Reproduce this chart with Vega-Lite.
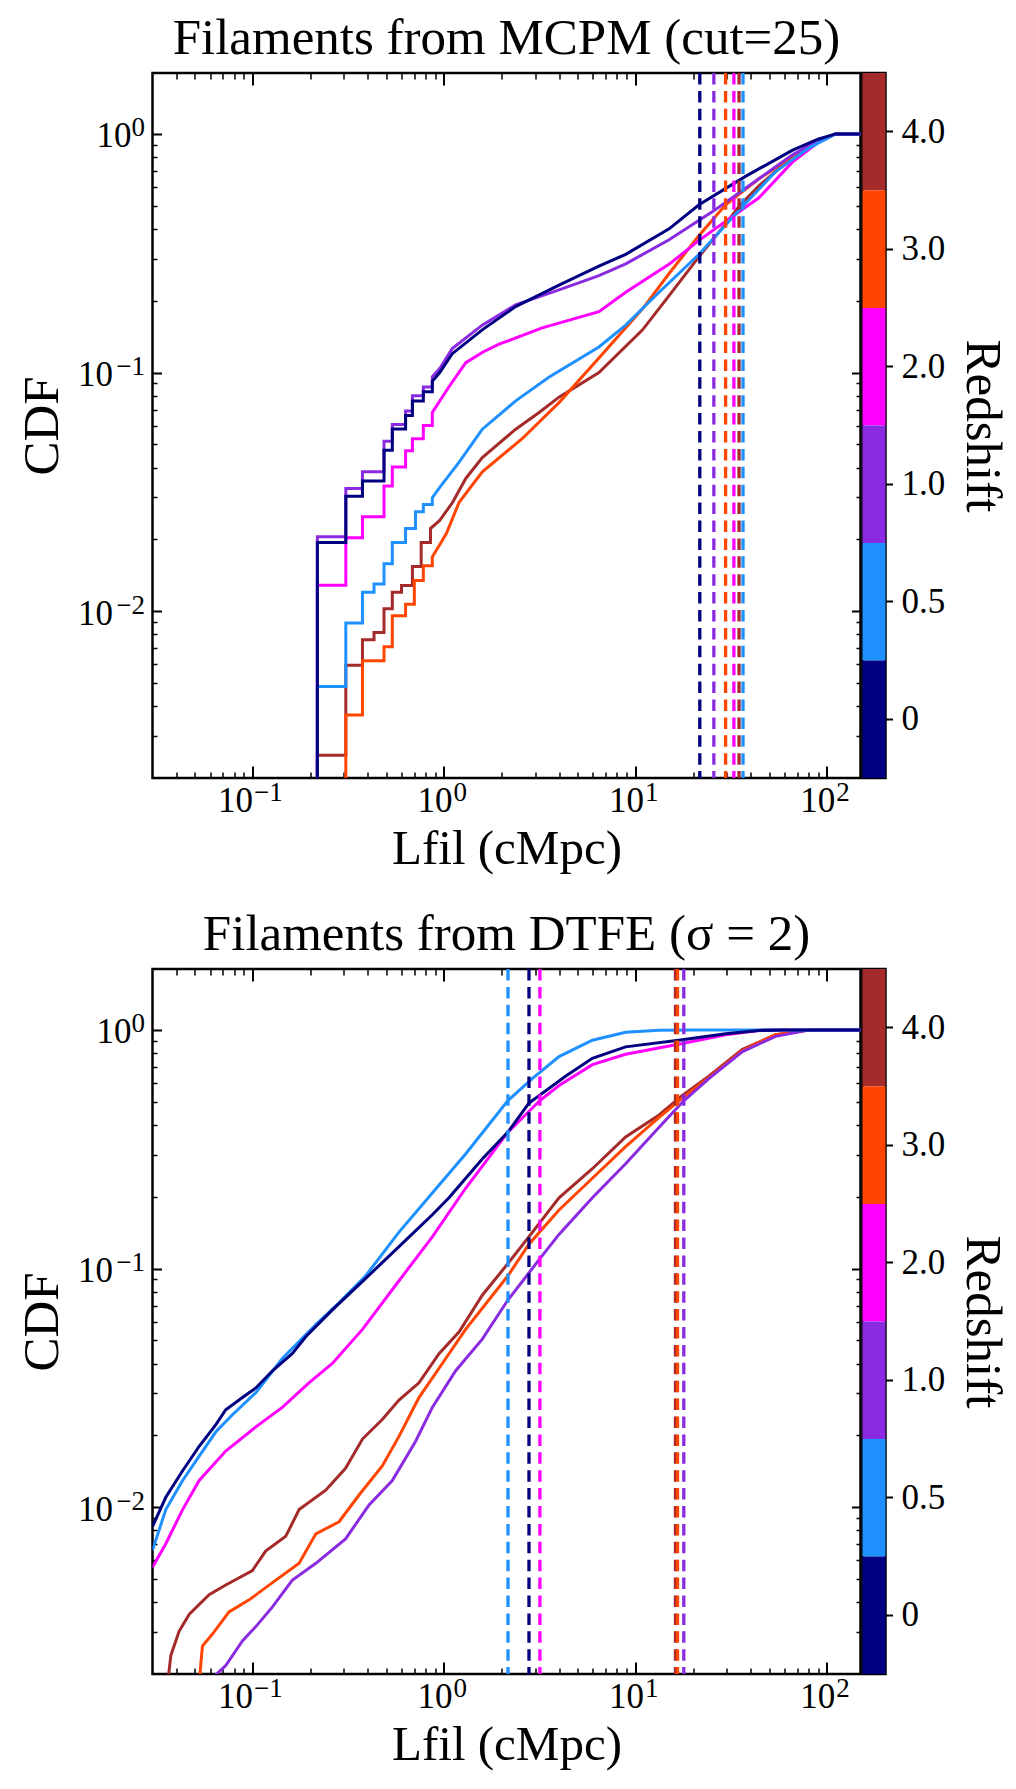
{
"$schema": "https://vega.github.io/schema/vega-lite/v6.json",
"padding": {"left": 14.5, "top": 12, "right": 5, "bottom": 5},
"background": "white",
"columns": 2,
"spacing": {"row": 191, "column": 2},
"bounds": "flush",
"concat": [
{
 "width": 708, "height": 705,
 "title": {"text": "Filaments from MCPM (cut=25)", "offset": 6},
 "layer": [
  {"data": {"name": "curves"}, "transform": [{"filter": "datum.panel == 'MCPM'"}],
   "mark": {"type": "line", "strokeWidth": 3, "clip": true},
   "encoding": {
    "x": {"field": "L", "type": "quantitative", "scale": {"type": "log", "domain": [0.03, 150], "nice": false},
      "axis": {"orient": "bottom", "values": [1, 10, 100], "labelExpr": "'10'", "ticks": false, "tickSize": 0, "labelPadding": 33.7, "labelBaseline": "alphabetic", "labelAlign": "right", "labelOffset": 8, "labelOverlap": false, "labelFlush": false, "title": "Lfil (cMpc)", "titleFontSize": 49, "titlePadding": 6}},
    "y": {"field": "cdf", "type": "quantitative", "scale": {"type": "log", "domain": [0.002, 1.8], "nice": false},
      "axis": {"orient": "left", "values": [0.01, 0.1], "labelExpr": "'10'", "ticks": false, "tickSize": 0, "labelPadding": 40, "labelBaseline": "alphabetic", "labelAlign": "right", "labelOffset": 13, "labelOverlap": false, "labelFlush": false, "title": "CDF", "titlePadding": 9}},
    "color": {"field": "z", "type": "nominal", "scale": {"domain": ["0", "0.5", "1.0", "2.0", "3.0", "4.0"], "range": ["#000080", "#1E90FF", "#8A2BE2", "#FF00FF", "#FF4500", "#A52A2A"]}, "legend": null},
    "order": {"value": null}
   }},
  {"data": {"name": "medians"}, "transform": [{"filter": "datum.panel == 'MCPM'"}],
   "mark": {"type": "rule", "strokeWidth": 3.3, "strokeDash": [11.5, 6.4]},
   "encoding": {
    "x": {"field": "L", "type": "quantitative", "scale": {"type": "log", "domain": [0.03, 150], "nice": false},
      "axis": {"orient": "top", "values": [0.1, 1, 10, 100], "tickSize": -12, "tickWidth": 2, "labels": false, "title": null}},
    "color": {"field": "z", "type": "nominal", "scale": {"domain": ["0", "0.5", "1.0", "2.0", "3.0", "4.0"], "range": ["#000080", "#1E90FF", "#8A2BE2", "#FF00FF", "#FF4500", "#A52A2A"]}, "legend": null}
   }},
  {"data": {"name": "curves"}, "transform": [{"filter": "datum.panel == 'MCPM' && datum.cdf >= 0.002"}],
   "mark": {"type": "point", "opacity": 0, "clip": true},
   "encoding": {
    "x": {"field": "L", "type": "quantitative", "scale": {"type": "log", "domain": [0.03, 150], "nice": false},
      "axis": {"orient": "bottom", "values": [0.1], "labelExpr": "'10'", "ticks": false, "tickSize": 0, "labelPadding": 33.7, "labelBaseline": "alphabetic", "labelAlign": "right", "labelOffset": 0, "labelOverlap": false, "labelFlush": false, "title": null}},
    "y": {"field": "cdf", "type": "quantitative", "scale": {"type": "log", "domain": [0.002, 1.8], "nice": false},
      "axis": {"orient": "left", "values": [1], "labelExpr": "'10'", "ticks": false, "tickSize": 0, "labelPadding": 21.5, "labelBaseline": "alphabetic", "labelAlign": "right", "labelOffset": 13, "labelOverlap": false, "labelFlush": false, "title": null}}
   }},
  {"data": {"name": "curves"}, "transform": [{"filter": "datum.panel == 'MCPM' && datum.cdf >= 0.002"}],
   "mark": {"type": "point", "opacity": 0, "clip": true},
   "encoding": {
    "x": {"field": "L", "type": "quantitative", "scale": {"type": "log", "domain": [0.03, 150], "nice": false},
      "axis": {"orient": "bottom", "values": [0.1], "labelExpr": "'−1'", "ticks": false, "tickSize": 0, "labelPadding": 22, "labelBaseline": "alphabetic", "labelAlign": "left", "labelOffset": 1, "labelFontSize": 27, "labelOverlap": false, "labelFlush": false, "title": null}},
    "y": {"field": "cdf", "type": "quantitative", "scale": {"type": "log", "domain": [0.002, 1.8], "nice": false},
      "axis": {"orient": "left", "values": [0.01, 0.1], "labelExpr": "datum.value < 0.05 ? '−2' : '−1'", "ticks": false, "tickSize": 0, "labelPadding": 8, "labelBaseline": "alphabetic", "labelAlign": "right", "labelOffset": 2, "labelFontSize": 27, "labelOverlap": false, "labelFlush": false, "title": null}}
   }},
  {"data": {"name": "curves"}, "transform": [{"filter": "datum.panel == 'MCPM' && datum.cdf >= 0.002"}],
   "mark": {"type": "point", "opacity": 0, "clip": true},
   "encoding": {
    "x": {"field": "L", "type": "quantitative", "scale": {"type": "log", "domain": [0.03, 150], "nice": false},
      "axis": {"orient": "bottom", "values": [1, 10, 100], "labelExpr": "datum.value < 5 ? '0' : datum.value < 50 ? '1' : '2'", "ticks": false, "tickSize": 0, "labelPadding": 22, "labelBaseline": "alphabetic", "labelAlign": "left", "labelOffset": 9, "labelFontSize": 27, "labelOverlap": false, "labelFlush": false, "title": null}},
    "y": {"field": "cdf", "type": "quantitative", "scale": {"type": "log", "domain": [0.002, 1.8], "nice": false},
      "axis": {"orient": "left", "values": [1], "labelExpr": "'0'", "ticks": false, "tickSize": 0, "labelPadding": 8, "labelBaseline": "alphabetic", "labelAlign": "right", "labelOffset": 2, "labelFontSize": 27, "labelOverlap": false, "labelFlush": false, "title": null}}
   }},
  {"data": {"name": "curves"}, "transform": [{"filter": "datum.panel == 'MCPM' && datum.cdf >= 0.002"}],
   "mark": {"type": "point", "opacity": 0, "clip": true},
   "encoding": {
    "x": {"field": "L", "type": "quantitative", "scale": {"type": "log", "domain": [0.03, 150], "nice": false},
      "axis": {"orient": "bottom", "values": [0.1, 1, 10, 100], "tickSize": -12, "tickWidth": 2, "labels": false, "title": null}},
    "y": {"field": "cdf", "type": "quantitative", "scale": {"type": "log", "domain": [0.002, 1.8], "nice": false},
      "axis": {"orient": "left", "values": [0.01, 0.1, 1], "tickSize": -9, "tickWidth": 2, "labels": false, "title": null}}
   }},
  {"data": {"name": "curves"}, "transform": [{"filter": "datum.panel == 'MCPM' && datum.cdf >= 0.002"}],
   "mark": {"type": "point", "opacity": 0, "clip": true},
   "encoding": {
    "x": {"field": "L", "type": "quantitative", "scale": {"type": "log", "domain": [0.03, 150], "nice": false},
      "axis": {"orient": "bottom", "values": [0.04,0.05,0.06,0.07,0.08,0.09,0.2,0.3,0.4,0.5,0.6,0.7,0.8,0.9,2,3,4,5,6,7,8,9,20,30,40,50,60,70,80,90], "tickSize": -6, "tickWidth": 1.5, "labels": false, "title": null}},
    "y": {"field": "cdf", "type": "quantitative", "scale": {"type": "log", "domain": [0.002, 1.8], "nice": false},
      "axis": {"orient": "left", "values": [0.003,0.004,0.005,0.006,0.007,0.008,0.009,0.02,0.03,0.04,0.05,0.06,0.07,0.08,0.09,0.2,0.3,0.4,0.5,0.6,0.7,0.8,0.9], "tickSize": -4.5, "tickWidth": 1.5, "labels": false, "title": null}}
   }},
  {"data": {"name": "curves"}, "transform": [{"filter": "datum.panel == 'MCPM' && datum.cdf >= 0.002"}],
   "mark": {"type": "point", "opacity": 0, "clip": true},
   "encoding": {
    "x": {"field": "L", "type": "quantitative", "scale": {"type": "log", "domain": [0.03, 150], "nice": false},
      "axis": {"orient": "top", "values": [0.04,0.05,0.06,0.07,0.08,0.09,0.2,0.3,0.4,0.5,0.6,0.7,0.8,0.9,2,3,4,5,6,7,8,9,20,30,40,50,60,70,80,90], "tickSize": -6, "tickWidth": 1.5, "labels": false, "title": null}},
    "y": {"field": "cdf", "type": "quantitative", "scale": {"type": "log", "domain": [0.002, 1.8], "nice": false},
      "axis": {"orient": "right", "values": [0.01, 0.1, 1], "tickSize": -9, "tickWidth": 2, "labels": false, "title": null}}
   }},
  {"data": {"name": "curves"}, "transform": [{"filter": "datum.panel == 'MCPM' && datum.cdf >= 0.002"}],
   "mark": {"type": "point", "opacity": 0, "clip": true},
   "encoding": {
    "x": {"field": "L", "type": "quantitative", "scale": {"type": "log", "domain": [0.03, 150], "nice": false}, "axis": null},
    "y": {"field": "cdf", "type": "quantitative", "scale": {"type": "log", "domain": [0.002, 1.8], "nice": false},
      "axis": {"orient": "right", "values": [0.003,0.004,0.005,0.006,0.007,0.008,0.009,0.02,0.03,0.04,0.05,0.06,0.07,0.08,0.09,0.2,0.3,0.4,0.5,0.6,0.7,0.8,0.9], "tickSize": -4.5, "tickWidth": 1.5, "labels": false, "title": null}}
   }}
 ],
 "resolve": {"axis": {"x": "independent", "y": "independent"}}
},
{
 "width": 23, "height": 705,
 "data": {"name": "cbar"},
 "mark": {"type": "rect"},
 "encoding": {
  "y": {"field": "z", "type": "ordinal", "sort": ["4.0", "3.0", "2.0", "1.0", "0.5", "0"], "scale": {"paddingInner": 0, "paddingOuter": 0},
    "axis": {"orient": "right", "title": "Redshift", "tickSize": 7, "tickWidth": 2, "labelPadding": 8.5, "titlePadding": 10.5, "labelAngle": 0, "labelBaseline": "middle"}},
  "color": {"field": "z", "type": "nominal", "scale": {"domain": ["0", "0.5", "1.0", "2.0", "3.0", "4.0"], "range": ["#000080", "#1E90FF", "#8A2BE2", "#FF00FF", "#FF4500", "#A52A2A"]}, "legend": null}
 }
},
{
 "width": 708, "height": 705,
 "title": {"text": "Filaments from DTFE (σ = 2)", "offset": 6},
 "layer": [
  {"data": {"name": "curves"}, "transform": [{"filter": "datum.panel == 'DTFE'"}],
   "mark": {"type": "line", "strokeWidth": 3, "clip": true},
   "encoding": {
    "x": {"field": "L", "type": "quantitative", "scale": {"type": "log", "domain": [0.03, 150], "nice": false},
      "axis": {"orient": "bottom", "values": [1, 10, 100], "labelExpr": "'10'", "ticks": false, "tickSize": 0, "labelPadding": 33.7, "labelBaseline": "alphabetic", "labelAlign": "right", "labelOffset": 8, "labelOverlap": false, "labelFlush": false, "title": "Lfil (cMpc)", "titleFontSize": 49, "titlePadding": 6}},
    "y": {"field": "cdf", "type": "quantitative", "scale": {"type": "log", "domain": [0.002, 1.8], "nice": false},
      "axis": {"orient": "left", "values": [0.01, 0.1], "labelExpr": "'10'", "ticks": false, "tickSize": 0, "labelPadding": 40, "labelBaseline": "alphabetic", "labelAlign": "right", "labelOffset": 13, "labelOverlap": false, "labelFlush": false, "title": "CDF", "titlePadding": 9}},
    "color": {"field": "z", "type": "nominal", "scale": {"domain": ["0", "0.5", "1.0", "2.0", "3.0", "4.0"], "range": ["#000080", "#1E90FF", "#8A2BE2", "#FF00FF", "#FF4500", "#A52A2A"]}, "legend": null},
    "order": {"value": null}
   }},
  {"data": {"name": "medians"}, "transform": [{"filter": "datum.panel == 'DTFE'"}],
   "mark": {"type": "rule", "strokeWidth": 3.3, "strokeDash": [11.5, 6.4]},
   "encoding": {
    "x": {"field": "L", "type": "quantitative", "scale": {"type": "log", "domain": [0.03, 150], "nice": false},
      "axis": {"orient": "top", "values": [0.1, 1, 10, 100], "tickSize": -12, "tickWidth": 2, "labels": false, "title": null}},
    "color": {"field": "z", "type": "nominal", "scale": {"domain": ["0", "0.5", "1.0", "2.0", "3.0", "4.0"], "range": ["#000080", "#1E90FF", "#8A2BE2", "#FF00FF", "#FF4500", "#A52A2A"]}, "legend": null}
   }},
  {"data": {"name": "curves"}, "transform": [{"filter": "datum.panel == 'DTFE' && datum.cdf >= 0.002"}],
   "mark": {"type": "point", "opacity": 0, "clip": true},
   "encoding": {
    "x": {"field": "L", "type": "quantitative", "scale": {"type": "log", "domain": [0.03, 150], "nice": false},
      "axis": {"orient": "bottom", "values": [0.1], "labelExpr": "'10'", "ticks": false, "tickSize": 0, "labelPadding": 33.7, "labelBaseline": "alphabetic", "labelAlign": "right", "labelOffset": 0, "labelOverlap": false, "labelFlush": false, "title": null}},
    "y": {"field": "cdf", "type": "quantitative", "scale": {"type": "log", "domain": [0.002, 1.8], "nice": false},
      "axis": {"orient": "left", "values": [1], "labelExpr": "'10'", "ticks": false, "tickSize": 0, "labelPadding": 21.5, "labelBaseline": "alphabetic", "labelAlign": "right", "labelOffset": 13, "labelOverlap": false, "labelFlush": false, "title": null}}
   }},
  {"data": {"name": "curves"}, "transform": [{"filter": "datum.panel == 'DTFE' && datum.cdf >= 0.002"}],
   "mark": {"type": "point", "opacity": 0, "clip": true},
   "encoding": {
    "x": {"field": "L", "type": "quantitative", "scale": {"type": "log", "domain": [0.03, 150], "nice": false},
      "axis": {"orient": "bottom", "values": [0.1], "labelExpr": "'−1'", "ticks": false, "tickSize": 0, "labelPadding": 22, "labelBaseline": "alphabetic", "labelAlign": "left", "labelOffset": 1, "labelFontSize": 27, "labelOverlap": false, "labelFlush": false, "title": null}},
    "y": {"field": "cdf", "type": "quantitative", "scale": {"type": "log", "domain": [0.002, 1.8], "nice": false},
      "axis": {"orient": "left", "values": [0.01, 0.1], "labelExpr": "datum.value < 0.05 ? '−2' : '−1'", "ticks": false, "tickSize": 0, "labelPadding": 8, "labelBaseline": "alphabetic", "labelAlign": "right", "labelOffset": 2, "labelFontSize": 27, "labelOverlap": false, "labelFlush": false, "title": null}}
   }},
  {"data": {"name": "curves"}, "transform": [{"filter": "datum.panel == 'DTFE' && datum.cdf >= 0.002"}],
   "mark": {"type": "point", "opacity": 0, "clip": true},
   "encoding": {
    "x": {"field": "L", "type": "quantitative", "scale": {"type": "log", "domain": [0.03, 150], "nice": false},
      "axis": {"orient": "bottom", "values": [1, 10, 100], "labelExpr": "datum.value < 5 ? '0' : datum.value < 50 ? '1' : '2'", "ticks": false, "tickSize": 0, "labelPadding": 22, "labelBaseline": "alphabetic", "labelAlign": "left", "labelOffset": 9, "labelFontSize": 27, "labelOverlap": false, "labelFlush": false, "title": null}},
    "y": {"field": "cdf", "type": "quantitative", "scale": {"type": "log", "domain": [0.002, 1.8], "nice": false},
      "axis": {"orient": "left", "values": [1], "labelExpr": "'0'", "ticks": false, "tickSize": 0, "labelPadding": 8, "labelBaseline": "alphabetic", "labelAlign": "right", "labelOffset": 2, "labelFontSize": 27, "labelOverlap": false, "labelFlush": false, "title": null}}
   }},
  {"data": {"name": "curves"}, "transform": [{"filter": "datum.panel == 'DTFE' && datum.cdf >= 0.002"}],
   "mark": {"type": "point", "opacity": 0, "clip": true},
   "encoding": {
    "x": {"field": "L", "type": "quantitative", "scale": {"type": "log", "domain": [0.03, 150], "nice": false},
      "axis": {"orient": "bottom", "values": [0.1, 1, 10, 100], "tickSize": -12, "tickWidth": 2, "labels": false, "title": null}},
    "y": {"field": "cdf", "type": "quantitative", "scale": {"type": "log", "domain": [0.002, 1.8], "nice": false},
      "axis": {"orient": "left", "values": [0.01, 0.1, 1], "tickSize": -9, "tickWidth": 2, "labels": false, "title": null}}
   }},
  {"data": {"name": "curves"}, "transform": [{"filter": "datum.panel == 'DTFE' && datum.cdf >= 0.002"}],
   "mark": {"type": "point", "opacity": 0, "clip": true},
   "encoding": {
    "x": {"field": "L", "type": "quantitative", "scale": {"type": "log", "domain": [0.03, 150], "nice": false},
      "axis": {"orient": "bottom", "values": [0.04,0.05,0.06,0.07,0.08,0.09,0.2,0.3,0.4,0.5,0.6,0.7,0.8,0.9,2,3,4,5,6,7,8,9,20,30,40,50,60,70,80,90], "tickSize": -6, "tickWidth": 1.5, "labels": false, "title": null}},
    "y": {"field": "cdf", "type": "quantitative", "scale": {"type": "log", "domain": [0.002, 1.8], "nice": false},
      "axis": {"orient": "left", "values": [0.003,0.004,0.005,0.006,0.007,0.008,0.009,0.02,0.03,0.04,0.05,0.06,0.07,0.08,0.09,0.2,0.3,0.4,0.5,0.6,0.7,0.8,0.9], "tickSize": -4.5, "tickWidth": 1.5, "labels": false, "title": null}}
   }},
  {"data": {"name": "curves"}, "transform": [{"filter": "datum.panel == 'DTFE' && datum.cdf >= 0.002"}],
   "mark": {"type": "point", "opacity": 0, "clip": true},
   "encoding": {
    "x": {"field": "L", "type": "quantitative", "scale": {"type": "log", "domain": [0.03, 150], "nice": false},
      "axis": {"orient": "top", "values": [0.04,0.05,0.06,0.07,0.08,0.09,0.2,0.3,0.4,0.5,0.6,0.7,0.8,0.9,2,3,4,5,6,7,8,9,20,30,40,50,60,70,80,90], "tickSize": -6, "tickWidth": 1.5, "labels": false, "title": null}},
    "y": {"field": "cdf", "type": "quantitative", "scale": {"type": "log", "domain": [0.002, 1.8], "nice": false},
      "axis": {"orient": "right", "values": [0.01, 0.1, 1], "tickSize": -9, "tickWidth": 2, "labels": false, "title": null}}
   }},
  {"data": {"name": "curves"}, "transform": [{"filter": "datum.panel == 'DTFE' && datum.cdf >= 0.002"}],
   "mark": {"type": "point", "opacity": 0, "clip": true},
   "encoding": {
    "x": {"field": "L", "type": "quantitative", "scale": {"type": "log", "domain": [0.03, 150], "nice": false}, "axis": null},
    "y": {"field": "cdf", "type": "quantitative", "scale": {"type": "log", "domain": [0.002, 1.8], "nice": false},
      "axis": {"orient": "right", "values": [0.003,0.004,0.005,0.006,0.007,0.008,0.009,0.02,0.03,0.04,0.05,0.06,0.07,0.08,0.09,0.2,0.3,0.4,0.5,0.6,0.7,0.8,0.9], "tickSize": -4.5, "tickWidth": 1.5, "labels": false, "title": null}}
   }}
 ],
 "resolve": {"axis": {"x": "independent", "y": "independent"}}
},
{
 "width": 23, "height": 705,
 "data": {"name": "cbar"},
 "mark": {"type": "rect"},
 "encoding": {
  "y": {"field": "z", "type": "ordinal", "sort": ["4.0", "3.0", "2.0", "1.0", "0.5", "0"], "scale": {"paddingInner": 0, "paddingOuter": 0},
    "axis": {"orient": "right", "title": "Redshift", "tickSize": 7, "tickWidth": 2, "labelPadding": 8.5, "titlePadding": 10.5, "labelAngle": 0, "labelBaseline": "middle"}},
  "color": {"field": "z", "type": "nominal", "scale": {"domain": ["0", "0.5", "1.0", "2.0", "3.0", "4.0"], "range": ["#000080", "#1E90FF", "#8A2BE2", "#FF00FF", "#FF4500", "#A52A2A"]}, "legend": null}
 }
}
],
"datasets": {
 "cbar": [{"z": "4.0"}, {"z": "3.0"}, {"z": "2.0"}, {"z": "1.0"}, {"z": "0.5"}, {"z": "0"}],
 "medians": [
  {"panel": "MCPM", "z": "4.0", "L": 34.8}, {"panel": "MCPM", "z": "3.0", "L": 29.6}, {"panel": "MCPM", "z": "2.0", "L": 32.7},
  {"panel": "MCPM", "z": "1.0", "L": 25.7}, {"panel": "MCPM", "z": "0.5", "L": 36.5}, {"panel": "MCPM", "z": "0", "L": 21.7},
  {"panel": "DTFE", "z": "4.0", "L": 16.2}, {"panel": "DTFE", "z": "3.0", "L": 16.6}, {"panel": "DTFE", "z": "2.0", "L": 3.17},
  {"panel": "DTFE", "z": "1.0", "L": 17.9}, {"panel": "DTFE", "z": "0.5", "L": 2.16}, {"panel": "DTFE", "z": "0", "L": 2.78}
 ],
 "curves": [
  {"panel":"MCPM","z":"4.0","L":0.218,"cdf":0.0019},{"panel":"MCPM","z":"4.0","L":0.218,"cdf":0.00249},{"panel":"MCPM","z":"4.0","L":0.307,"cdf":0.00249},{"panel":"MCPM","z":"4.0","L":0.307,"cdf":0.00593},{"panel":"MCPM","z":"4.0","L":0.375,"cdf":0.00593},{"panel":"MCPM","z":"4.0","L":0.375,"cdf":0.0076},{"panel":"MCPM","z":"4.0","L":0.431,"cdf":0.0076},{"panel":"MCPM","z":"4.0","L":0.431,"cdf":0.00815},{"panel":"MCPM","z":"4.0","L":0.486,"cdf":0.00815},{"panel":"MCPM","z":"4.0","L":0.486,"cdf":0.01024},{"panel":"MCPM","z":"4.0","L":0.537,"cdf":0.01024},{"panel":"MCPM","z":"4.0","L":0.537,"cdf":0.012},{"panel":"MCPM","z":"4.0","L":0.6,"cdf":0.012},{"panel":"MCPM","z":"4.0","L":0.6,"cdf":0.0128},{"panel":"MCPM","z":"4.0","L":0.684,"cdf":0.0128},{"panel":"MCPM","z":"4.0","L":0.684,"cdf":0.0154},{"panel":"MCPM","z":"4.0","L":0.76,"cdf":0.0154},{"panel":"MCPM","z":"4.0","L":0.76,"cdf":0.0194},{"panel":"MCPM","z":"4.0","L":0.85,"cdf":0.0194},{"panel":"MCPM","z":"4.0","L":0.85,"cdf":0.0222},{"panel":"MCPM","z":"4.0","L":0.95,"cdf":0.024},{"panel":"MCPM","z":"4.0","L":1.11,"cdf":0.0286},{"panel":"MCPM","z":"4.0","L":1.3,"cdf":0.036},{"panel":"MCPM","z":"4.0","L":1.586,"cdf":0.044},{"panel":"MCPM","z":"4.0","L":2.37,"cdf":0.0579},{"panel":"MCPM","z":"4.0","L":3.14,"cdf":0.068},{"panel":"MCPM","z":"4.0","L":3.99,"cdf":0.0789},{"panel":"MCPM","z":"4.0","L":6.45,"cdf":0.1},{"panel":"MCPM","z":"4.0","L":10.9,"cdf":0.151},{"panel":"MCPM","z":"4.0","L":15,"cdf":0.21},{"panel":"MCPM","z":"4.0","L":21.5,"cdf":0.306},{"panel":"MCPM","z":"4.0","L":29.6,"cdf":0.42},{"panel":"MCPM","z":"4.0","L":35,"cdf":0.5},{"panel":"MCPM","z":"4.0","L":44.2,"cdf":0.606},{"panel":"MCPM","z":"4.0","L":65.9,"cdf":0.796},{"panel":"MCPM","z":"4.0","L":90,"cdf":0.93},{"panel":"MCPM","z":"4.0","L":111,"cdf":1},{"panel":"MCPM","z":"4.0","L":150,"cdf":1},
  {"panel":"MCPM","z":"3.0","L":0.307,"cdf":0.0019},{"panel":"MCPM","z":"3.0","L":0.307,"cdf":0.00367},{"panel":"MCPM","z":"3.0","L":0.375,"cdf":0.00367},{"panel":"MCPM","z":"3.0","L":0.375,"cdf":0.0062},{"panel":"MCPM","z":"3.0","L":0.486,"cdf":0.0062},{"panel":"MCPM","z":"3.0","L":0.486,"cdf":0.0071},{"panel":"MCPM","z":"3.0","L":0.537,"cdf":0.0071},{"panel":"MCPM","z":"3.0","L":0.537,"cdf":0.00957},{"panel":"MCPM","z":"3.0","L":0.63,"cdf":0.00957},{"panel":"MCPM","z":"3.0","L":0.63,"cdf":0.0107},{"panel":"MCPM","z":"3.0","L":0.7,"cdf":0.0107},{"panel":"MCPM","z":"3.0","L":0.7,"cdf":0.01346},{"panel":"MCPM","z":"3.0","L":0.78,"cdf":0.01346},{"panel":"MCPM","z":"3.0","L":0.78,"cdf":0.0155},{"panel":"MCPM","z":"3.0","L":0.869,"cdf":0.0155},{"panel":"MCPM","z":"3.0","L":0.869,"cdf":0.0169},{"panel":"MCPM","z":"3.0","L":0.95,"cdf":0.019},{"panel":"MCPM","z":"3.0","L":1.03,"cdf":0.0212},{"panel":"MCPM","z":"3.0","L":1.2,"cdf":0.0286},{"panel":"MCPM","z":"3.0","L":1.586,"cdf":0.0384},{"panel":"MCPM","z":"3.0","L":2.56,"cdf":0.0528},{"panel":"MCPM","z":"3.0","L":4,"cdf":0.075},{"panel":"MCPM","z":"3.0","L":6.45,"cdf":0.115},{"panel":"MCPM","z":"3.0","L":10.9,"cdf":0.185},{"panel":"MCPM","z":"3.0","L":15,"cdf":0.26},{"panel":"MCPM","z":"3.0","L":21.5,"cdf":0.375},{"panel":"MCPM","z":"3.0","L":29.6,"cdf":0.505},{"panel":"MCPM","z":"3.0","L":44.2,"cdf":0.649},{"panel":"MCPM","z":"3.0","L":65.9,"cdf":0.796},{"panel":"MCPM","z":"3.0","L":90,"cdf":0.93},{"panel":"MCPM","z":"3.0","L":111,"cdf":1},{"panel":"MCPM","z":"3.0","L":150,"cdf":1},
  {"panel":"MCPM","z":"2.0","L":0.218,"cdf":0.0019},{"panel":"MCPM","z":"2.0","L":0.218,"cdf":0.01286},{"panel":"MCPM","z":"2.0","L":0.307,"cdf":0.01286},{"panel":"MCPM","z":"2.0","L":0.307,"cdf":0.0203},{"panel":"MCPM","z":"2.0","L":0.375,"cdf":0.0203},{"panel":"MCPM","z":"2.0","L":0.375,"cdf":0.0249},{"panel":"MCPM","z":"2.0","L":0.486,"cdf":0.0249},{"panel":"MCPM","z":"2.0","L":0.486,"cdf":0.0335},{"panel":"MCPM","z":"2.0","L":0.537,"cdf":0.0335},{"panel":"MCPM","z":"2.0","L":0.537,"cdf":0.0402},{"panel":"MCPM","z":"2.0","L":0.63,"cdf":0.0402},{"panel":"MCPM","z":"2.0","L":0.63,"cdf":0.047},{"panel":"MCPM","z":"2.0","L":0.684,"cdf":0.047},{"panel":"MCPM","z":"2.0","L":0.684,"cdf":0.0528},{"panel":"MCPM","z":"2.0","L":0.78,"cdf":0.0528},{"panel":"MCPM","z":"2.0","L":0.78,"cdf":0.06},{"panel":"MCPM","z":"2.0","L":0.869,"cdf":0.06},{"panel":"MCPM","z":"2.0","L":0.869,"cdf":0.068},{"panel":"MCPM","z":"2.0","L":0.95,"cdf":0.076},{"panel":"MCPM","z":"2.0","L":1.06,"cdf":0.087},{"panel":"MCPM","z":"2.0","L":1.3,"cdf":0.11},{"panel":"MCPM","z":"2.0","L":1.6,"cdf":0.122},{"panel":"MCPM","z":"2.0","L":1.94,"cdf":0.1315},{"panel":"MCPM","z":"2.0","L":3.26,"cdf":0.154},{"panel":"MCPM","z":"2.0","L":6.45,"cdf":0.18},{"panel":"MCPM","z":"2.0","L":8.9,"cdf":0.217},{"panel":"MCPM","z":"2.0","L":15.1,"cdf":0.2855},{"panel":"MCPM","z":"2.0","L":21.5,"cdf":0.358},{"panel":"MCPM","z":"2.0","L":32,"cdf":0.45},{"panel":"MCPM","z":"2.0","L":44.2,"cdf":0.54},{"panel":"MCPM","z":"2.0","L":65.9,"cdf":0.76},{"panel":"MCPM","z":"2.0","L":90,"cdf":0.92},{"panel":"MCPM","z":"2.0","L":111,"cdf":1},{"panel":"MCPM","z":"2.0","L":150,"cdf":1},
  {"panel":"MCPM","z":"1.0","L":0.218,"cdf":0.0019},{"panel":"MCPM","z":"1.0","L":0.218,"cdf":0.0205},{"panel":"MCPM","z":"1.0","L":0.307,"cdf":0.0205},{"panel":"MCPM","z":"1.0","L":0.307,"cdf":0.0327},{"panel":"MCPM","z":"1.0","L":0.375,"cdf":0.0327},{"panel":"MCPM","z":"1.0","L":0.375,"cdf":0.0384},{"panel":"MCPM","z":"1.0","L":0.486,"cdf":0.0384},{"panel":"MCPM","z":"1.0","L":0.486,"cdf":0.0516},{"panel":"MCPM","z":"1.0","L":0.537,"cdf":0.0516},{"panel":"MCPM","z":"1.0","L":0.537,"cdf":0.0606},{"panel":"MCPM","z":"1.0","L":0.63,"cdf":0.0606},{"panel":"MCPM","z":"1.0","L":0.63,"cdf":0.069},{"panel":"MCPM","z":"1.0","L":0.684,"cdf":0.069},{"panel":"MCPM","z":"1.0","L":0.684,"cdf":0.08},{"panel":"MCPM","z":"1.0","L":0.78,"cdf":0.08},{"panel":"MCPM","z":"1.0","L":0.78,"cdf":0.087},{"panel":"MCPM","z":"1.0","L":0.869,"cdf":0.087},{"panel":"MCPM","z":"1.0","L":0.869,"cdf":0.096},{"panel":"MCPM","z":"1.0","L":0.95,"cdf":0.104},{"panel":"MCPM","z":"1.0","L":1.105,"cdf":0.126},{"panel":"MCPM","z":"1.0","L":1.584,"cdf":0.158},{"panel":"MCPM","z":"1.0","L":2.366,"cdf":0.192},{"panel":"MCPM","z":"1.0","L":3.99,"cdf":0.222},{"panel":"MCPM","z":"1.0","L":6.45,"cdf":0.255},{"panel":"MCPM","z":"1.0","L":8.9,"cdf":0.2855},{"panel":"MCPM","z":"1.0","L":15,"cdf":0.36},{"panel":"MCPM","z":"1.0","L":25.2,"cdf":0.4714},{"panel":"MCPM","z":"1.0","L":37.6,"cdf":0.592},{"panel":"MCPM","z":"1.0","L":65.9,"cdf":0.815},{"panel":"MCPM","z":"1.0","L":90,"cdf":0.94},{"panel":"MCPM","z":"1.0","L":111,"cdf":1},{"panel":"MCPM","z":"1.0","L":150,"cdf":1},
  {"panel":"MCPM","z":"0.5","L":0.218,"cdf":0.0019},{"panel":"MCPM","z":"0.5","L":0.218,"cdf":0.00483},{"panel":"MCPM","z":"0.5","L":0.307,"cdf":0.00483},{"panel":"MCPM","z":"0.5","L":0.307,"cdf":0.00893},{"panel":"MCPM","z":"0.5","L":0.375,"cdf":0.00893},{"panel":"MCPM","z":"0.5","L":0.375,"cdf":0.012},{"panel":"MCPM","z":"0.5","L":0.431,"cdf":0.012},{"panel":"MCPM","z":"0.5","L":0.431,"cdf":0.013},{"panel":"MCPM","z":"0.5","L":0.486,"cdf":0.013},{"panel":"MCPM","z":"0.5","L":0.486,"cdf":0.0158},{"panel":"MCPM","z":"0.5","L":0.537,"cdf":0.0158},{"panel":"MCPM","z":"0.5","L":0.537,"cdf":0.0194},{"panel":"MCPM","z":"0.5","L":0.63,"cdf":0.0194},{"panel":"MCPM","z":"0.5","L":0.63,"cdf":0.0222},{"panel":"MCPM","z":"0.5","L":0.71,"cdf":0.0222},{"panel":"MCPM","z":"0.5","L":0.71,"cdf":0.0261},{"panel":"MCPM","z":"0.5","L":0.78,"cdf":0.0261},{"panel":"MCPM","z":"0.5","L":0.78,"cdf":0.028},{"panel":"MCPM","z":"0.5","L":0.869,"cdf":0.028},{"panel":"MCPM","z":"0.5","L":0.869,"cdf":0.0299},{"panel":"MCPM","z":"0.5","L":0.95,"cdf":0.033},{"panel":"MCPM","z":"0.5","L":1.2,"cdf":0.0421},{"panel":"MCPM","z":"0.5","L":1.586,"cdf":0.0579},{"panel":"MCPM","z":"0.5","L":2.37,"cdf":0.0761},{"panel":"MCPM","z":"0.5","L":3.53,"cdf":0.0956},{"panel":"MCPM","z":"0.5","L":6.45,"cdf":0.128},{"panel":"MCPM","z":"0.5","L":8.9,"cdf":0.158},{"panel":"MCPM","z":"0.5","L":13.3,"cdf":0.217},{"panel":"MCPM","z":"0.5","L":21.5,"cdf":0.313},{"panel":"MCPM","z":"0.5","L":36,"cdf":0.493},{"panel":"MCPM","z":"0.5","L":54,"cdf":0.695},{"panel":"MCPM","z":"0.5","L":80.5,"cdf":0.872},{"panel":"MCPM","z":"0.5","L":111,"cdf":1},{"panel":"MCPM","z":"0.5","L":150,"cdf":1},
  {"panel":"MCPM","z":"0","L":0.218,"cdf":0.0019},{"panel":"MCPM","z":"0","L":0.218,"cdf":0.0194},{"panel":"MCPM","z":"0","L":0.307,"cdf":0.0194},{"panel":"MCPM","z":"0","L":0.307,"cdf":0.0303},{"panel":"MCPM","z":"0","L":0.375,"cdf":0.0303},{"panel":"MCPM","z":"0","L":0.375,"cdf":0.0351},{"panel":"MCPM","z":"0","L":0.486,"cdf":0.0351},{"panel":"MCPM","z":"0","L":0.486,"cdf":0.0472},{"panel":"MCPM","z":"0","L":0.537,"cdf":0.0472},{"panel":"MCPM","z":"0","L":0.537,"cdf":0.058},{"panel":"MCPM","z":"0","L":0.63,"cdf":0.058},{"panel":"MCPM","z":"0","L":0.63,"cdf":0.066},{"panel":"MCPM","z":"0","L":0.684,"cdf":0.066},{"panel":"MCPM","z":"0","L":0.684,"cdf":0.076},{"panel":"MCPM","z":"0","L":0.78,"cdf":0.076},{"panel":"MCPM","z":"0","L":0.78,"cdf":0.083},{"panel":"MCPM","z":"0","L":0.869,"cdf":0.083},{"panel":"MCPM","z":"0","L":0.869,"cdf":0.092},{"panel":"MCPM","z":"0","L":0.95,"cdf":0.1},{"panel":"MCPM","z":"0","L":1.105,"cdf":0.12},{"panel":"MCPM","z":"0","L":1.584,"cdf":0.151},{"panel":"MCPM","z":"0","L":2.366,"cdf":0.189},{"panel":"MCPM","z":"0","L":3.99,"cdf":0.2325},{"panel":"MCPM","z":"0","L":6.45,"cdf":0.279},{"panel":"MCPM","z":"0","L":8.9,"cdf":0.313},{"panel":"MCPM","z":"0","L":15,"cdf":0.4},{"panel":"MCPM","z":"0","L":21.5,"cdf":0.505},{"panel":"MCPM","z":"0","L":37.6,"cdf":0.664},{"panel":"MCPM","z":"0","L":65.9,"cdf":0.853},{"panel":"MCPM","z":"0","L":90,"cdf":0.95},{"panel":"MCPM","z":"0","L":111,"cdf":1},{"panel":"MCPM","z":"0","L":150,"cdf":1},
  {"panel":"DTFE","z":"4.0","L":0.0362,"cdf":0.0019},{"panel":"DTFE","z":"4.0","L":0.0374,"cdf":0.00239},{"panel":"DTFE","z":"4.0","L":0.0413,"cdf":0.00302},{"panel":"DTFE","z":"4.0","L":0.0467,"cdf":0.00356},{"panel":"DTFE","z":"4.0","L":0.0593,"cdf":0.0043},{"panel":"DTFE","z":"4.0","L":0.0724,"cdf":0.00472},{"panel":"DTFE","z":"4.0","L":0.0998,"cdf":0.00543},{"panel":"DTFE","z":"4.0","L":0.117,"cdf":0.00655},{"panel":"DTFE","z":"4.0","L":0.149,"cdf":0.00755},{"panel":"DTFE","z":"4.0","L":0.175,"cdf":0.00977},{"panel":"DTFE","z":"4.0","L":0.241,"cdf":0.01178},{"panel":"DTFE","z":"4.0","L":0.306,"cdf":0.01455},{"panel":"DTFE","z":"4.0","L":0.375,"cdf":0.0193},{"panel":"DTFE","z":"4.0","L":0.476,"cdf":0.0233},{"panel":"DTFE","z":"4.0","L":0.582,"cdf":0.0281},{"panel":"DTFE","z":"4.0","L":0.74,"cdf":0.0332},{"panel":"DTFE","z":"4.0","L":0.942,"cdf":0.044},{"panel":"DTFE","z":"4.0","L":1.2,"cdf":0.0543},{"panel":"DTFE","z":"4.0","L":1.585,"cdf":0.0773},{"panel":"DTFE","z":"4.0","L":2.158,"cdf":0.105},{"panel":"DTFE","z":"4.0","L":2.78,"cdf":0.136},{"panel":"DTFE","z":"4.0","L":3.99,"cdf":0.198},{"panel":"DTFE","z":"4.0","L":5.96,"cdf":0.262},{"panel":"DTFE","z":"4.0","L":8.89,"cdf":0.356},{"panel":"DTFE","z":"4.0","L":13.3,"cdf":0.44},{"panel":"DTFE","z":"4.0","L":17.6,"cdf":0.531},{"panel":"DTFE","z":"4.0","L":24.2,"cdf":0.64},{"panel":"DTFE","z":"4.0","L":36.1,"cdf":0.828},{"panel":"DTFE","z":"4.0","L":54,"cdf":0.955},{"panel":"DTFE","z":"4.0","L":80.5,"cdf":0.998},{"panel":"DTFE","z":"4.0","L":100,"cdf":1},{"panel":"DTFE","z":"4.0","L":150,"cdf":1},
  {"panel":"DTFE","z":"3.0","L":0.0528,"cdf":0.0019},{"panel":"DTFE","z":"3.0","L":0.0547,"cdf":0.00262},{"panel":"DTFE","z":"3.0","L":0.0617,"cdf":0.00294},{"panel":"DTFE","z":"3.0","L":0.0753,"cdf":0.00364},{"panel":"DTFE","z":"3.0","L":0.0959,"cdf":0.00409},{"panel":"DTFE","z":"3.0","L":0.127,"cdf":0.00483},{"panel":"DTFE","z":"3.0","L":0.175,"cdf":0.00582},{"panel":"DTFE","z":"3.0","L":0.214,"cdf":0.00773},{"panel":"DTFE","z":"3.0","L":0.283,"cdf":0.00869},{"panel":"DTFE","z":"3.0","L":0.36,"cdf":0.01125},{"panel":"DTFE","z":"3.0","L":0.476,"cdf":0.0149},{"panel":"DTFE","z":"3.0","L":0.582,"cdf":0.0198},{"panel":"DTFE","z":"3.0","L":0.74,"cdf":0.0288},{"panel":"DTFE","z":"3.0","L":0.98,"cdf":0.04},{"panel":"DTFE","z":"3.0","L":1.297,"cdf":0.0556},{"panel":"DTFE","z":"3.0","L":2.158,"cdf":0.0933},{"panel":"DTFE","z":"3.0","L":2.78,"cdf":0.1265},{"panel":"DTFE","z":"3.0","L":3.99,"cdf":0.176},{"panel":"DTFE","z":"3.0","L":5.96,"cdf":0.239},{"panel":"DTFE","z":"3.0","L":8.89,"cdf":0.324},{"panel":"DTFE","z":"3.0","L":13.3,"cdf":0.43},{"panel":"DTFE","z":"3.0","L":17.6,"cdf":0.518},{"panel":"DTFE","z":"3.0","L":24.2,"cdf":0.631},{"panel":"DTFE","z":"3.0","L":36.1,"cdf":0.817},{"panel":"DTFE","z":"3.0","L":54,"cdf":0.955},{"panel":"DTFE","z":"3.0","L":80.5,"cdf":0.998},{"panel":"DTFE","z":"3.0","L":100,"cdf":1},{"panel":"DTFE","z":"3.0","L":150,"cdf":1},
  {"panel":"DTFE","z":"2.0","L":0.03,"cdf":0.0056},{"panel":"DTFE","z":"2.0","L":0.0352,"cdf":0.00703},{"panel":"DTFE","z":"2.0","L":0.0431,"cdf":0.00977},{"panel":"DTFE","z":"2.0","L":0.0526,"cdf":0.01294},{"panel":"DTFE","z":"2.0","L":0.0724,"cdf":0.01718},{"panel":"DTFE","z":"2.0","L":0.104,"cdf":0.0217},{"panel":"DTFE","z":"2.0","L":0.143,"cdf":0.0262},{"panel":"DTFE","z":"2.0","L":0.197,"cdf":0.0332},{"panel":"DTFE","z":"2.0","L":0.261,"cdf":0.04},{"panel":"DTFE","z":"2.0","L":0.375,"cdf":0.0556},{"panel":"DTFE","z":"2.0","L":0.582,"cdf":0.0889},{"panel":"DTFE","z":"2.0","L":0.869,"cdf":0.1358},{"panel":"DTFE","z":"2.0","L":1.297,"cdf":0.217},{"panel":"DTFE","z":"2.0","L":2.158,"cdf":0.373},{"panel":"DTFE","z":"2.0","L":3.17,"cdf":0.506},{"panel":"DTFE","z":"2.0","L":3.99,"cdf":0.585},{"panel":"DTFE","z":"2.0","L":5.96,"cdf":0.715},{"panel":"DTFE","z":"2.0","L":8.89,"cdf":0.791},{"panel":"DTFE","z":"2.0","L":17.6,"cdf":0.877},{"panel":"DTFE","z":"2.0","L":29.6,"cdf":0.955},{"panel":"DTFE","z":"2.0","L":44.2,"cdf":0.995},{"panel":"DTFE","z":"2.0","L":60,"cdf":1},{"panel":"DTFE","z":"2.0","L":150,"cdf":1},
  {"panel":"DTFE","z":"1.0","L":0.0605,"cdf":0.0019},{"panel":"DTFE","z":"1.0","L":0.0724,"cdf":0.00217},{"panel":"DTFE","z":"1.0","L":0.0885,"cdf":0.00275},{"panel":"DTFE","z":"1.0","L":0.104,"cdf":0.00316},{"panel":"DTFE","z":"1.0","L":0.127,"cdf":0.00382},{"panel":"DTFE","z":"1.0","L":0.161,"cdf":0.00494},{"panel":"DTFE","z":"1.0","L":0.214,"cdf":0.00582},{"panel":"DTFE","z":"1.0","L":0.306,"cdf":0.00736},{"panel":"DTFE","z":"1.0","L":0.406,"cdf":0.01023},{"panel":"DTFE","z":"1.0","L":0.537,"cdf":0.01294},{"panel":"DTFE","z":"1.0","L":0.711,"cdf":0.0189},{"panel":"DTFE","z":"1.0","L":0.869,"cdf":0.0262},{"panel":"DTFE","z":"1.0","L":1.151,"cdf":0.0373},{"panel":"DTFE","z":"1.0","L":1.585,"cdf":0.0506},{"panel":"DTFE","z":"1.0","L":2.158,"cdf":0.0738},{"panel":"DTFE","z":"1.0","L":3.17,"cdf":0.11},{"panel":"DTFE","z":"1.0","L":3.99,"cdf":0.139},{"panel":"DTFE","z":"1.0","L":5.96,"cdf":0.198},{"panel":"DTFE","z":"1.0","L":8.89,"cdf":0.275},{"panel":"DTFE","z":"1.0","L":13.3,"cdf":0.391},{"panel":"DTFE","z":"1.0","L":17.95,"cdf":0.506},{"panel":"DTFE","z":"1.0","L":24.2,"cdf":0.625},{"panel":"DTFE","z":"1.0","L":36.1,"cdf":0.809},{"panel":"DTFE","z":"1.0","L":54,"cdf":0.94},{"panel":"DTFE","z":"1.0","L":80.5,"cdf":0.998},{"panel":"DTFE","z":"1.0","L":100,"cdf":1},{"panel":"DTFE","z":"1.0","L":150,"cdf":1},
  {"panel":"DTFE","z":"0.5","L":0.03,"cdf":0.0066},{"panel":"DTFE","z":"0.5","L":0.0352,"cdf":0.00977},{"panel":"DTFE","z":"0.5","L":0.0431,"cdf":0.01294},{"panel":"DTFE","z":"0.5","L":0.0526,"cdf":0.01637},{"panel":"DTFE","z":"0.5","L":0.0643,"cdf":0.0207},{"panel":"DTFE","z":"0.5","L":0.0785,"cdf":0.0244},{"panel":"DTFE","z":"0.5","L":0.104,"cdf":0.0302},{"panel":"DTFE","z":"0.5","L":0.143,"cdf":0.042},{"panel":"DTFE","z":"0.5","L":0.214,"cdf":0.0582},{"panel":"DTFE","z":"0.5","L":0.283,"cdf":0.0719},{"panel":"DTFE","z":"0.5","L":0.39,"cdf":0.0933},{"panel":"DTFE","z":"0.5","L":0.582,"cdf":0.1422},{"panel":"DTFE","z":"0.5","L":0.869,"cdf":0.2075},{"panel":"DTFE","z":"0.5","L":1.297,"cdf":0.302},{"panel":"DTFE","z":"0.5","L":2.158,"cdf":0.506},{"panel":"DTFE","z":"0.5","L":2.89,"cdf":0.625},{"panel":"DTFE","z":"0.5","L":3.99,"cdf":0.773},{"panel":"DTFE","z":"0.5","L":5.96,"cdf":0.905},{"panel":"DTFE","z":"0.5","L":8.89,"cdf":0.977},{"panel":"DTFE","z":"0.5","L":13.3,"cdf":0.997},{"panel":"DTFE","z":"0.5","L":20,"cdf":1},{"panel":"DTFE","z":"0.5","L":150,"cdf":1},
  {"panel":"DTFE","z":"0","L":0.03,"cdf":0.0083},{"panel":"DTFE","z":"0","L":0.0352,"cdf":0.011},{"panel":"DTFE","z":"0","L":0.0431,"cdf":0.01422},{"panel":"DTFE","z":"0","L":0.0526,"cdf":0.018},{"panel":"DTFE","z":"0","L":0.0643,"cdf":0.0222},{"panel":"DTFE","z":"0","L":0.0724,"cdf":0.0256},{"panel":"DTFE","z":"0","L":0.0885,"cdf":0.0288},{"panel":"DTFE","z":"0","L":0.104,"cdf":0.0316},{"panel":"DTFE","z":"0","L":0.127,"cdf":0.0373},{"panel":"DTFE","z":"0","L":0.161,"cdf":0.044},{"panel":"DTFE","z":"0","L":0.19,"cdf":0.0519},{"panel":"DTFE","z":"0","L":0.261,"cdf":0.0671},{"panel":"DTFE","z":"0","L":0.39,"cdf":0.091},{"panel":"DTFE","z":"0","L":0.582,"cdf":0.1236},{"panel":"DTFE","z":"0","L":0.869,"cdf":0.168},{"panel":"DTFE","z":"0","L":1.062,"cdf":0.198},{"panel":"DTFE","z":"0","L":1.585,"cdf":0.288},{"panel":"DTFE","z":"0","L":2.158,"cdf":0.373},{"panel":"DTFE","z":"0","L":2.78,"cdf":0.494},{"panel":"DTFE","z":"0","L":4.315,"cdf":0.64},{"panel":"DTFE","z":"0","L":5.96,"cdf":0.76},{"panel":"DTFE","z":"0","L":8.89,"cdf":0.849},{"panel":"DTFE","z":"0","L":17.6,"cdf":0.91},{"panel":"DTFE","z":"0","L":29.6,"cdf":0.964},{"panel":"DTFE","z":"0","L":44.2,"cdf":0.995},{"panel":"DTFE","z":"0","L":60,"cdf":1},{"panel":"DTFE","z":"0","L":150,"cdf":1}
 ]
},
"config": {
 "font": "Liberation Serif",
 "view": {"stroke": "black", "strokeWidth": 2.5},
 "axis": {"grid": false, "domain": false, "labelFont": "Liberation Serif, DejaVu Serif", "titleFont": "Liberation Serif", "labelColor": "black", "titleColor": "black", "tickColor": "black", "labelFontSize": 35, "titleFontSize": 51, "titleFontWeight": "normal"},
 "title": {"font": "Liberation Serif", "fontSize": 51, "fontWeight": "normal", "color": "black"}
}
}
